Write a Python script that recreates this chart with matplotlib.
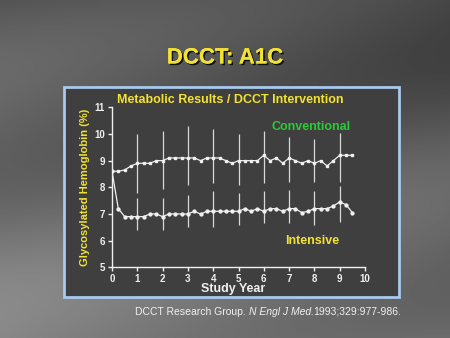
import numpy as np
import matplotlib.pyplot as plt
from matplotlib.patches import Rectangle
import matplotlib.patheffects as pe

plt.rcParams['font.family'] = ['Liberation Sans', 'DejaVu Sans']

# study year, sampled every quarter
years = [0, 0.25, 0.5, 0.75, 1, 1.25, 1.5, 1.75, 2, 2.25, 2.5, 2.75, 3, 3.25,
         3.5, 3.75, 4, 4.25, 4.5, 4.75, 5, 5.25, 5.5, 5.75, 6, 6.25, 6.5, 6.75,
         7, 7.25, 7.5, 7.75, 8, 8.25, 8.5, 8.75, 9, 9.25, 9.5]
conventional = [8.6, 8.6, 8.65, 8.8, 8.9, 8.9, 8.9, 9.0, 9.0, 9.1, 9.1, 9.1,
                9.1, 9.1, 9.0, 9.1, 9.1, 9.1, 9.0, 8.9, 9.0, 9.0, 9.0, 9.0,
                9.2, 9.0, 9.1, 8.9, 9.1, 9.0, 8.9, 9.0, 8.9, 9.0, 8.8, 9.0,
                9.2, 9.2, 9.2]
intensive = [8.6, 7.2, 6.9, 6.9, 6.9, 6.9, 7.0, 7.0, 6.9, 7.0, 7.0, 7.0,
             7.0, 7.1, 7.0, 7.1, 7.1, 7.1, 7.1, 7.1, 7.1, 7.2, 7.1, 7.2,
             7.1, 7.2, 7.2, 7.1, 7.2, 7.2, 7.05, 7.1, 7.2, 7.2, 7.2, 7.3,
             7.45, 7.35, 7.05]

# yearly ranges (vertical bars)
bar_years = [1, 2, 3, 4, 5, 6, 7, 8, 9]
conv_lo = [7.8, 7.95, 8.1, 8.15, 8.1, 8.15, 8.2, 8.2, 8.2]
conv_hi = [10.0, 10.1, 10.3, 10.2, 10.0, 10.1, 9.9, 9.8, 10.05]
int_lo = [6.4, 6.4, 6.5, 6.5, 6.6, 6.65, 6.65, 6.6, 6.7]
int_hi = [7.6, 7.6, 7.7, 7.85, 7.8, 7.85, 7.9, 7.85, 8.05]

xticks = [0, 1, 2, 3, 4, 5, 6, 7, 8, 9, 10]
yticks = [5, 6, 7, 8, 9, 10, 11]

yellow = '#f2e231'
green = '#2fc83a'
white = '#f0f0f0'

fig = plt.figure(figsize=(4.5, 3.38), dpi=100)

# slide background
bg = fig.add_axes([0, 0, 1, 1])
gy, gx = np.mgrid[0:1:200j, 0:1:260j]
shade = 0.33 + 0.18 * gy - 0.06 * gx + 0.05 * np.sin(gy * 9 + gx * 3)
bg.imshow(shade, cmap='gray', vmin=0, vmax=1, aspect='auto',
          extent=[0, 1, 0, 1], origin='upper')
bg.set_xlim(0, 1)
bg.set_ylim(0, 1)
bg.axis('off')

# chart panel
bg.add_patch(Rectangle((63.5 / 450, 1 - 296.5 / 338), 335 / 450, 210 / 338,
                       facecolor='#3f3f3f', edgecolor='#a9c9ee', lw=2,
                       transform=bg.transAxes, zorder=2))

fig.text(0.5, 1 - 58 / 338, 'DCCT: A1C', color=yellow, fontsize=16,
         fontweight='bold', ha='center', va='center',
         path_effects=[pe.withSimplePatchShadow(offset=(1.2, -1.2),
                                                shadow_rgbFace='black',
                                                alpha=0.8), pe.Normal()])

ax = fig.add_axes([112 / 450, 1 - 267.3 / 338, 253 / 450, 160 / 338])
ax.set_facecolor('none')
ax.plot(years, conventional, color=white, lw=0.9, marker='s', ms=2.0,
        zorder=3)
ax.plot(years, intensive, color=white, lw=0.9, marker='o', ms=2.1, zorder=3)
ax.vlines(bar_years, conv_lo, conv_hi, color='#d8d8d8', lw=0.9, zorder=2)
ax.vlines(bar_years, int_lo, int_hi, color='#d8d8d8', lw=0.9, zorder=2)

ax.set_xlim(0, 10)
ax.set_ylim(5, 11)
ax.set_xticks(xticks)
ax.set_yticks(yticks)
for side in ['top', 'right']:
    ax.spines[side].set_visible(False)
for side in ['left', 'bottom']:
    ax.spines[side].set_color(white)
    ax.spines[side].set_linewidth(1.0)
ax.tick_params(colors=white, length=3, width=1, labelsize=7, pad=2)
for lab in ax.get_xticklabels() + ax.get_yticklabels():
    lab.set_fontweight('bold')
    lab.set_color(white)

ax.set_xlabel('Study Year', color=white, fontsize=9, fontweight='bold',
              labelpad=0)
ax.xaxis.set_label_coords(0.48, -0.1)
ax.set_ylabel('Glycosylated Hemoglobin (%)', color=yellow, fontsize=8,
              fontweight='bold', labelpad=3)

fig.text(230 / 450, 1 - 100 / 338, 'Metabolic Results / DCCT Intervention',
         color=yellow, fontsize=9, fontweight='bold', ha='center',
         va='center')
ax.text(9.45, 10.27, 'Conventional', color=green, fontsize=9,
        fontweight='bold', ha='right', va='center')
ax.text(9.0, 6.0, 'Intensive', color=yellow, fontsize=9,
        fontweight='bold', ha='right', va='center')

# citation with italic journal name
t1 = fig.text(135 / 450, 1 - 315 / 338, 'DCCT Research Group. ',
              color=white, fontsize=7.5, va='baseline')
t2 = fig.text(0, 0, 'N Engl J Med.', color=white, fontsize=7.5,
              style='italic', va='baseline')
t3 = fig.text(0, 0, '1993;329:977-986.', color=white, fontsize=7.5,
              va='baseline')
fig.canvas.draw()
r = fig.canvas.get_renderer()
inv = fig.transFigure.inverted()
bb = t1.get_window_extent(r).transformed(inv)
t2.set_position((bb.x1, 1 - 315 / 338))
fig.canvas.draw()
bb2 = t2.get_window_extent(r).transformed(inv)
t3.set_position((bb2.x1, 1 - 315 / 338))

fig.savefig('out.png', dpi=100)
